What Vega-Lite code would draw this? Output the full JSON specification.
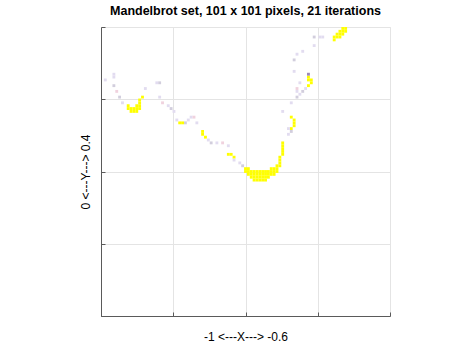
{
  "$schema": "https://vega.github.io/schema/vega-lite/v6.json",
  "width": 289,
  "height": 289,
  "autosize": {"type": "none"},
  "padding": {"left": 101, "top": 27, "right": 84, "bottom": 39},
  "background": "white",
  "title": {"text": "Mandelbrot set, 101 x 101 pixels, 21 iterations", "font": "Liberation Sans", "fontSize": 12.5, "fontWeight": "bold", "color": "#000000", "offset": 9, "anchor": "middle"},
  "config": {"view": {"stroke": "#e4e4e4"}},
  "data": {"values": [
    {"col": 14, "row": 24, "c": "Y"}, {"col": 13, "row": 25, "c": "Y"}, {"col": 13, "row": 26, "c": "Y"},
    {"col": 9, "row": 27, "c": "Y"}, {"col": 12, "row": 27, "c": "Y"}, {"col": 13, "row": 27, "c": "Y"},
    {"col": 9, "row": 28, "c": "Y"}, {"col": 10, "row": 28, "c": "Y"}, {"col": 11, "row": 28, "c": "Y"}, {"col": 12, "row": 28, "c": "Y"}, {"col": 13, "row": 28, "c": "Y"},
    {"col": 10, "row": 29, "c": "Y"}, {"col": 11, "row": 29, "c": "Y"}, {"col": 12, "row": 29, "c": "Y"},
    {"col": 27, "row": 33, "c": "Y"}, {"col": 28, "row": 33, "c": "Y"}, {"col": 35, "row": 36, "c": "Y"}, {"col": 35, "row": 37, "c": "Y"}, {"col": 36, "row": 38, "c": "Y"},
    {"col": 44, "row": 44, "c": "Y"}, {"col": 45, "row": 44, "c": "Y"}, {"col": 46, "row": 45, "c": "Y"},
    {"col": 50, "row": 49, "c": "Y"}, {"col": 51, "row": 49, "c": "Y"}, {"col": 59, "row": 49, "c": "Y"}, {"col": 60, "row": 49, "c": "Y"}, {"col": 61, "row": 49, "c": "Y"},
    {"col": 50, "row": 50, "c": "Y"}, {"col": 51, "row": 50, "c": "Y"}, {"col": 52, "row": 50, "c": "Y"}, {"col": 53, "row": 50, "c": "Y"}, {"col": 54, "row": 50, "c": "Y"}, {"col": 55, "row": 50, "c": "Y"}, {"col": 56, "row": 50, "c": "Y"}, {"col": 57, "row": 50, "c": "Y"}, {"col": 58, "row": 50, "c": "Y"}, {"col": 59, "row": 50, "c": "Y"}, {"col": 60, "row": 50, "c": "Y"}, {"col": 61, "row": 50, "c": "Y"},
    {"col": 51, "row": 51, "c": "Y"}, {"col": 52, "row": 51, "c": "Y"}, {"col": 53, "row": 51, "c": "Y"}, {"col": 54, "row": 51, "c": "Y"}, {"col": 55, "row": 51, "c": "Y"}, {"col": 56, "row": 51, "c": "Y"}, {"col": 57, "row": 51, "c": "Y"}, {"col": 58, "row": 51, "c": "Y"}, {"col": 59, "row": 51, "c": "Y"}, {"col": 60, "row": 51, "c": "Y"},
    {"col": 52, "row": 52, "c": "Y"}, {"col": 53, "row": 52, "c": "Y"}, {"col": 54, "row": 52, "c": "Y"}, {"col": 55, "row": 52, "c": "Y"}, {"col": 56, "row": 52, "c": "Y"}, {"col": 57, "row": 52, "c": "Y"}, {"col": 58, "row": 52, "c": "Y"},
    {"col": 53, "row": 53, "c": "Y"}, {"col": 54, "row": 53, "c": "Y"}, {"col": 55, "row": 53, "c": "Y"}, {"col": 56, "row": 53, "c": "Y"}, {"col": 57, "row": 53, "c": "Y"},
    {"col": 61, "row": 48, "c": "Y"}, {"col": 62, "row": 48, "c": "Y"}, {"col": 62, "row": 47, "c": "Y"}, {"col": 62, "row": 46, "c": "Y"}, {"col": 62, "row": 45, "c": "Y"},
    {"col": 63, "row": 44, "c": "Y"}, {"col": 63, "row": 43, "c": "Y"}, {"col": 63, "row": 42, "c": "Y"}, {"col": 63, "row": 41, "c": "Y"}, {"col": 63, "row": 40, "c": "Y"},
    {"col": 66, "row": 31, "c": "Y"}, {"col": 67, "row": 32, "c": "Y"}, {"col": 67, "row": 33, "c": "Y"}, {"col": 67, "row": 34, "c": "Y"}, {"col": 66, "row": 35, "c": "Y"},
    {"col": 72, "row": 17, "c": "Y"}, {"col": 72, "row": 18, "c": "Y"}, {"col": 73, "row": 18, "c": "Y"}, {"col": 73, "row": 19, "c": "Y"}, {"col": 72, "row": 20, "c": "Y"},
    {"col": 84, "row": 0, "c": "Y"}, {"col": 85, "row": 0, "c": "Y"},
    {"col": 83, "row": 1, "c": "Y"}, {"col": 84, "row": 1, "c": "Y"}, {"col": 85, "row": 1, "c": "Y"},
    {"col": 82, "row": 2, "c": "Y"}, {"col": 83, "row": 2, "c": "Y"}, {"col": 84, "row": 2, "c": "Y"},
    {"col": 81, "row": 3, "c": "Y"}, {"col": 82, "row": 3, "c": "Y"}, {"col": 83, "row": 3, "c": "Y"},
    {"col": 81, "row": 4, "c": "Y"},
    {"col": 1, "row": 18, "c": "L"}, {"col": 4, "row": 17, "c": "L"}, {"col": 4, "row": 16, "c": "L"}, {"col": 7, "row": 26, "c": "L"}, {"col": 15, "row": 21, "c": "L"},
    {"col": 19, "row": 19, "c": "L"}, {"col": 20, "row": 24, "c": "L"}, {"col": 23, "row": 27, "c": "L"}, {"col": 25, "row": 29, "c": "L"}, {"col": 26, "row": 32, "c": "L"},
    {"col": 30, "row": 32, "c": "L"}, {"col": 31, "row": 31, "c": "L"}, {"col": 33, "row": 33, "c": "L"}, {"col": 37, "row": 39, "c": "L"}, {"col": 40, "row": 40, "c": "L"},
    {"col": 44, "row": 41, "c": "L"}, {"col": 46, "row": 46, "c": "L"}, {"col": 48, "row": 47, "c": "L"}, {"col": 65, "row": 35, "c": "L"}, {"col": 65, "row": 37, "c": "L"},
    {"col": 63, "row": 29, "c": "L"}, {"col": 66, "row": 26, "c": "L"}, {"col": 68, "row": 22, "c": "L"}, {"col": 69, "row": 19, "c": "L"}, {"col": 67, "row": 15, "c": "L"},
    {"col": 68, "row": 9, "c": "L"}, {"col": 70, "row": 8, "c": "L"}, {"col": 76, "row": 3, "c": "L"}, {"col": 77, "row": 3, "c": "L"}, {"col": 71, "row": 21, "c": "L"},
    {"col": 69, "row": 23, "c": "L"}, {"col": 74, "row": 6, "c": "L"},
    {"col": 4, "row": 20, "c": "G"}, {"col": 6, "row": 24, "c": "G"}, {"col": 20, "row": 19, "c": "G"}, {"col": 24, "row": 28, "c": "G"}, {"col": 29, "row": 33, "c": "G"},
    {"col": 38, "row": 40, "c": "G"}, {"col": 49, "row": 48, "c": "G"}, {"col": 66, "row": 36, "c": "G"}, {"col": 68, "row": 24, "c": "G"}, {"col": 67, "row": 11, "c": "G"},
    {"col": 74, "row": 3, "c": "G"}, {"col": 70, "row": 22, "c": "G"},
    {"col": 5, "row": 22, "c": "P"}, {"col": 21, "row": 26, "c": "P"}, {"col": 32, "row": 31, "c": "P"}, {"col": 42, "row": 40, "c": "P"}, {"col": 68, "row": 21, "c": "P"},
    {"col": 72, "row": 16, "c": "D"}
  ]},
  "mark": {"type": "square", "size": 8.2, "opacity": 1},
  "encoding": {
    "x": {"field": "col", "type": "quantitative",
      "scale": {"domain": [-0.5, 100.5], "nice": false, "zero": false},
      "axis": {"title": "-1 <---X---> -0.6", "values": [-0.5, 24.75, 50, 75.25, 100.5], "labels": false, "tickSize": -4, "grid": true, "gridColor": "#e4e4e4", "domainColor": "#5a5a5a", "tickColor": "#5a5a5a", "titleFont": "Liberation Sans", "titleFontSize": 12, "titleFontWeight": "normal", "titleColor": "#000000", "titlePadding": 15}},
    "y": {"field": "row", "type": "quantitative",
      "scale": {"domain": [-0.5, 100.5], "nice": false, "zero": false, "reverse": true},
      "axis": {"title": "0 <---Y---> 0.4", "values": [-0.5, 24.75, 50, 75.25, 100.5], "labels": false, "tickSize": -4, "grid": true, "gridColor": "#e4e4e4", "domainColor": "#5a5a5a", "tickColor": "#5a5a5a", "titleFont": "Liberation Sans", "titleFontSize": 12, "titleFontWeight": "normal", "titleColor": "#000000", "titlePadding": 8}},
    "color": {"field": "c", "type": "nominal",
      "scale": {"domain": ["Y", "L", "G", "P", "D"], "range": ["#ffff00", "#e2dcf0", "#d2cedd", "#f0d2de", "#9d8ab8"]},
      "legend": null}
  }
}
